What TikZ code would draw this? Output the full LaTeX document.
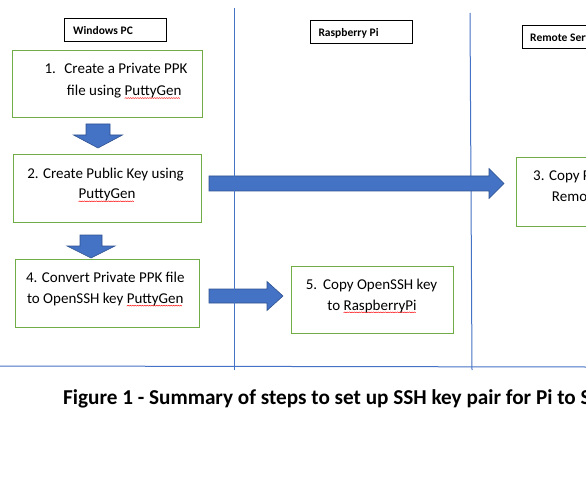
\documentclass[tikz,border=0pt]{standalone}
\usepackage{fontspec}
\setmainfont{Carlito}
\usetikzlibrary{calc}
\definecolor{boxgreen}{RGB}{112,173,71}
\definecolor{lineblue}{RGB}{68,114,196}
\definecolor{arrowedge}{RGB}{47,82,143}
\newsavebox\sqbox
\newcommand\squig[1]{\sbox\sqbox{#1}\rlap{\raisebox{-2.8pt}[0pt][0pt]{\hbox to \wd\sqbox{\leaders\hbox to 2.4pt{\tikz[overlay]\draw[red,line width=0.45pt] (0pt,0pt)--(1.2pt,0.9pt)--(2.4pt,0pt);\hss}\hfill}}}\usebox\sqbox}
% #1 start, #2 tip, #3 shaft half width, #4 head half width, #5 head length
\newcommand\rightblock[5]{\draw[blk] ($(#1)+(0,-#3)$) -- ($(#2)+(-#5,-#3)$) -- ($(#2)+(-#5,-#4)$) -- (#2) -- ($(#2)+(-#5,#4)$) -- ($(#2)+(-#5,#3)$) -- ($(#1)+(0,#3)$) -- cycle;}
\newcommand\downblock[5]{\draw[blk] ($(#1)+(-#3,0)$) -- ($(#2)+(-#3,-#5)$) -- ($(#2)+(-#4,-#5)$) -- (#2) -- ($(#2)+(#4,-#5)$) -- ($(#2)+(#3,-#5)$) -- ($(#1)+(#3,0)$) -- cycle;}
\begin{document}
\begin{tikzpicture}[x=1pt,y=-1pt,
  greenbox/.style={draw=boxgreen, line width=1pt, inner sep=0pt, fill=white},
  hdrbox/.style={draw=black, line width=1pt, inner sep=0pt, minimum width=102, minimum height=23},
  hdrtxt/.style={font=\bfseries\fontsize{11.5}{14}\selectfont, inner sep=0pt, anchor=base west},
  txt/.style={font=\fontsize{15}{18}\selectfont, inner sep=0pt, anchor=base},
  sep/.style={draw=lineblue, line width=1pt},
  blk/.style={fill=lineblue, draw=arrowedge, line width=0.6pt}]
\useasboundingbox (0,0) rectangle (586,489);
\clip (0,0) rectangle (586,489);
% separators
\coordinate (v2t) at (470,13); \coordinate (v2b) at (472,370);
\coordinate (hl) at (0,366); \coordinate (hr) at (586,367);
\draw[sep] (v2t) -- (v2b);
\draw[sep] (hl) -- (hr);
% headers
\node[hdrbox] (h1) at (115,30.5) {};
\node[hdrtxt] (h1t) at (73,35) {Windows PC};
\node[hdrbox] (h2) at (361,32.5) {};
\node[hdrtxt] (h2t) at (318.3,36.7) {Raspberry Pi};
\node[hdrbox] (h3) at (573,37.5) {};
\node[hdrtxt] (h3t) at (530,41.7) {Remote Server};
% boxes
\node[greenbox, minimum width=190, minimum height=67] (b1) at (107,84.5) {};
\node[greenbox, minimum width=188, minimum height=67] (b2) at (107,188.5) {};
\node[greenbox, minimum width=190, minimum height=68] (b3) at (611,192) {};
\node[greenbox, minimum width=184, minimum height=68] (b4) at (107,293) {};
\node[greenbox, minimum width=162, minimum height=67] (b5) at (372,299.5) {};
% box texts
\node[txt, anchor=base west] (b1t1) at (44.3,74) {\makebox[20pt][l]{1.}Create a Private PPK};
\node[txt, anchor=base west] (b1t2) at (66.7,95.7) {file using \squig{PuttyGen}};
\node[txt] (b2t1) at (105.5,179) {2. Create Public Key using};
\node[txt] (b2t2) at (107,199) {\squig{PuttyGen}};
\node[txt, anchor=base west] (b3t1) at (533,181) {3. Copy Public Key to the};
\node[txt, anchor=base west] (b3t2) at (551.7,201.7) {Remote Server};
\node[txt] (b4t1) at (105.3,282.3) {4. Convert Private PPK file};
\node[txt] (b4t2) at (105.3,303.3) {to OpenSSH key \squig{PuttyGen}};
\node[txt] (b5t1) at (371.5,289) {5.\hspace{1.5pt} Copy OpenSSH key};
\node[txt] (b5t2) at (372,310) {to \squig{RaspberryPi}};
% block arrows
\coordinate (a1s) at (98,124); \coordinate (a1e) at (98,148);
\coordinate (a2s) at (91,235); \coordinate (a2e) at (91,258);
\coordinate (a3s) at (209,183.5); \coordinate (a3e) at (504,183.5);
\coordinate (a4s) at (209,296); \coordinate (a4e) at (283,296);
\downblock{a1s}{a1e}{12}{24.5}{13}
\downblock{a2s}{a2e}{11}{24}{12}
\rightblock{a3s}{a3e}{7.5}{15}{15}
\rightblock{a4s}{a4e}{7}{14.5}{16}
% left separator (drawn over the arrows)
\coordinate (v1t) at (234,8); \coordinate (v1b) at (234,370);
\draw[sep] (v1t) -- (v1b);
% caption
\node[font=\bfseries\fontsize{21.2}{24}\selectfont, inner sep=0pt, anchor=base west] (cap) at (63,404.5) {Figure 1 - Summary of steps to set up SSH key pair for Pi to Server};
\end{tikzpicture}
\end{document}
